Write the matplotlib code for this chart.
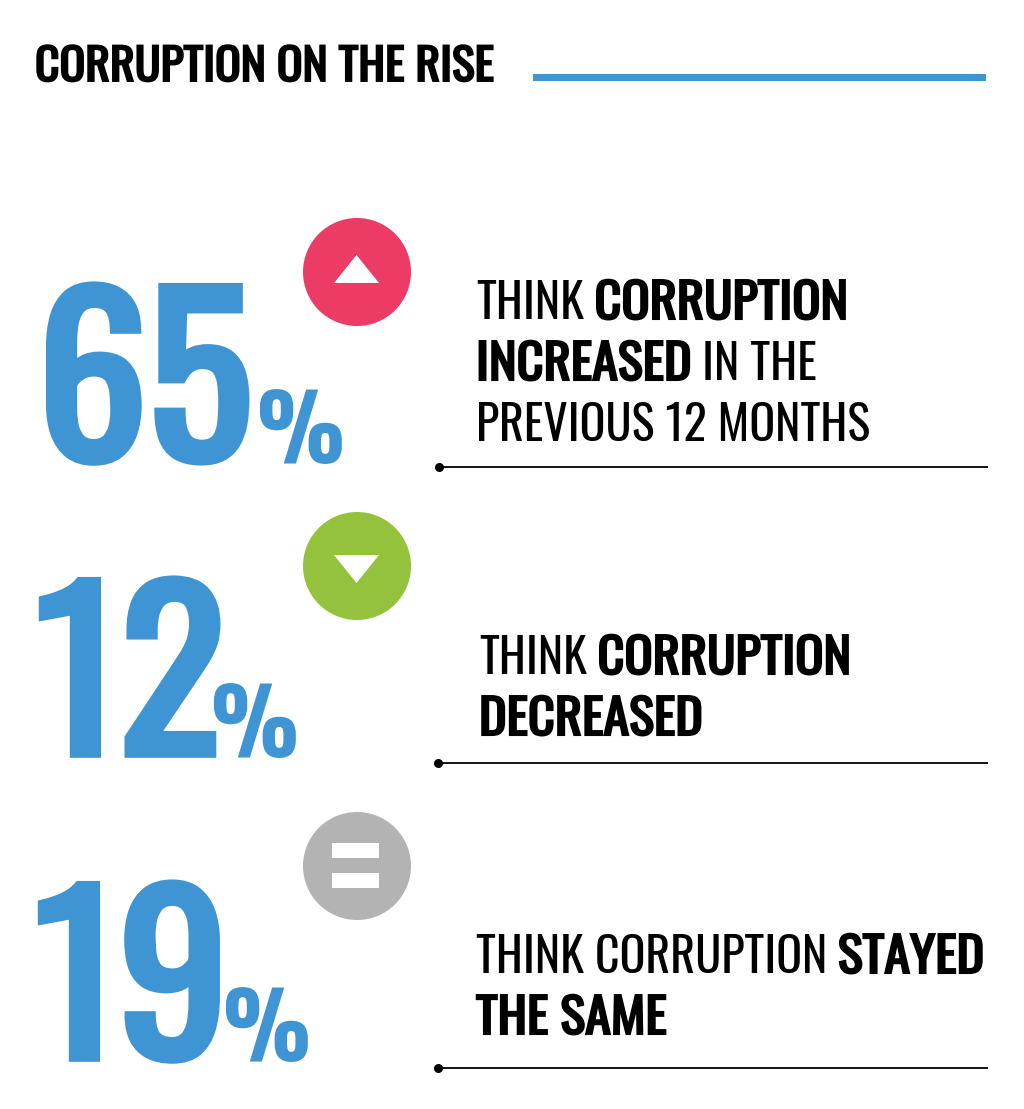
import matplotlib
matplotlib.use('Agg')
import matplotlib.pyplot as plt
import matplotlib.patheffects as pe
from matplotlib.patches import Circle, Polygon, Rectangle
from matplotlib.transforms import Affine2D

W, H = 1024, 1109
BLUE = '#3f94d3'
FONT = ['Oswald', 'Liberation Sans', 'DejaVu Sans']

title = 'CORRUPTION ON THE RISE'
values = ['65', '12', '19']
badge_colors = ['#ec3b65', '#95c23d', '#b3b3b3']

# each line is a list of (text, bold) runs
row_lines = [
    [[('THINK', False), ('CORRUPTION', True)],
     [('INCREASED', True), ('IN THE', False)],
     [('PREVIOUS 12 MONTHS', False)]],
    [[('THINK', False), ('CORRUPTION', True)],
     [('DECREASED', True)]],
    [[('THINK CORRUPTION', False), ('STAYED', True)],
     [('THE SAME', True)]],
]

# layout in image pixels
num_x = [37, 36, 35]
num_base = [460, 754, 1058]
pct_x = [258, 212, 224]
badge_y = [272, 566, 866]
line_x = [476, 479, 476]
line_base = [[319, 380, 441], [674, 735], [973, 1034]]
rule_y = [467, 763, 1068]
rule_x0 = [439, 438, 438]

BOLD_SX = 1.09
BOLD_STROKE = 1.5


class Heavy(pe.Stroke):
    # no variable font weights in matplotlib, so widen and outline the glyphs
    def __init__(self, sx, width, color):
        super().__init__(linewidth=width, foreground=color, joinstyle='miter')
        self.sx = sx

    def draw_path(self, renderer, gc, tpath, affine, rgbFace):
        super().draw_path(renderer, gc, tpath, Affine2D().scale(self.sx, 1) + affine, rgbFace)


fig = plt.figure(figsize=(W / 100, H / 100), dpi=100, facecolor='white')
ax = fig.add_axes([0, 0, 1, 1])
ax.set_xlim(0, W)
ax.set_ylim(H, 0)
ax.axis('off')
renderer = fig.canvas.get_renderer()


def put_runs(x, y, runs):
    # place bold and regular pieces one after the other on a baseline
    for text, bold in runs:
        t = ax.text(x, y, text, fontsize=34.6, family=FONT, color='black', va='baseline')
        sx = 1
        if bold:
            t.set_path_effects([Heavy(BOLD_SX, BOLD_STROKE, 'black')])
            sx = BOLD_SX
        x += t.get_window_extent(renderer).width * sx + 10.5


ax.text(35, 81, title, fontsize=31.5, family=FONT, color='black', va='baseline',
        path_effects=[Heavy(1.09, 1.4, 'black')])
ax.add_patch(Rectangle((533, 74), 453, 7, color=BLUE, lw=0))

for i, val in enumerate(values):
    ax.text(num_x[i], num_base[i], val, fontsize=154, family=FONT, color=BLUE, va='baseline',
            path_effects=[Heavy(1.03, 5.5, BLUE)])
    ax.text(pct_x[i], num_base[i] + 2, '%', fontsize=63, family=FONT, color=BLUE, va='baseline',
            path_effects=[Heavy(1.1, 2.2, BLUE)])

    by = badge_y[i]
    ax.add_patch(Circle((357, by), 54, color=badge_colors[i], lw=0))
    if i == 0:
        ax.add_patch(Polygon([(334, by + 11), (379, by + 11), (356.5, by - 17)], color='white', lw=0))
    elif i == 1:
        ax.add_patch(Polygon([(334, by - 11), (379, by - 11), (356.5, by + 17)], color='white', lw=0))
    else:
        ax.add_patch(Rectangle((332, by - 23), 47, 15, color='white', lw=0))
        ax.add_patch(Rectangle((332, by + 7), 47, 15, color='white', lw=0))

    for runs, base in zip(row_lines[i], line_base[i]):
        put_runs(line_x[i], base, runs)

    ax.plot([rule_x0[i], 988], [rule_y[i], rule_y[i]], color='black', lw=1.3, solid_capstyle='butt')
    ax.plot([rule_x0[i]], [rule_y[i]], 'o', color='black', ms=5.5)

fig.savefig('out.png', dpi=100, facecolor='white')
